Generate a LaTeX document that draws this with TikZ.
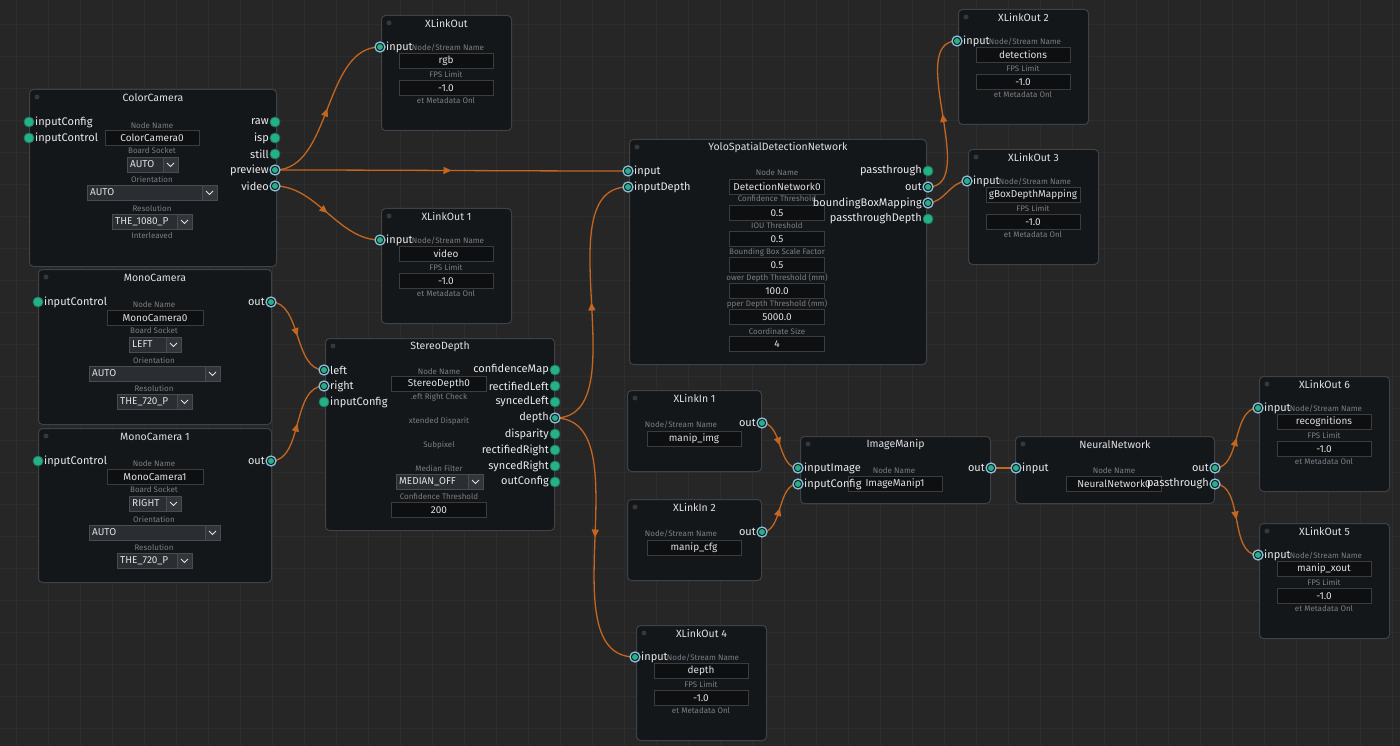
\documentclass[tikz,border=0pt]{standalone}
\usepackage{fontspec}
\setmainfont{Fira Sans}
\usetikzlibrary{arrows.meta, positioning, calc, decorations.markings}
\definecolor{canvasbg}{RGB}{38,38,38}
\definecolor{gridline}{RGB}{45,45,45}
\definecolor{nodebg}{RGB}{20,23,26}
\definecolor{nodeedge}{RGB}{62,66,70}
\definecolor{titletxt}{RGB}{222,224,226}
\definecolor{pintxt}{RGB}{234,234,234}
\definecolor{smalltxt}{RGB}{122,126,130}
\definecolor{fieldbg}{RGB}{13,15,17}
\definecolor{fieldedge}{RGB}{58,61,64}
\definecolor{dropbg}{RGB}{42,45,49}
\definecolor{dropbtn}{RGB}{50,53,57}
\definecolor{dropedge}{RGB}{72,76,80}
\definecolor{pingreen}{RGB}{38,176,134}
\definecolor{pinedge}{RGB}{28,120,95}
\definecolor{pinring}{RGB}{140,190,222}
\definecolor{linkorange}{RGB}{196,102,32}
\definecolor{dotgray}{RGB}{52,56,60}

\pgfdeclarelayer{grid}
\pgfdeclarelayer{links}
\pgfsetlayers{grid,links,main}

\tikzset{
  box/.style={draw=nodeedge, fill=nodebg, line width=1pt, rounded corners=4pt, anchor=north west, inner sep=0pt},
  titletext/.style={text=titletxt, font=\fontsize{10.5}{12}\selectfont},
  pintext/.style={text=pintxt, font=\fontsize{11}{13}\selectfont, inner sep=0pt},
  smalltext/.style={text=smalltxt, font=\fontsize{8}{9.5}\selectfont, inner sep=0pt},
  fieldbox/.style={draw=fieldedge, fill=fieldbg, line width=0.8pt, minimum height=15pt, inner sep=0pt, anchor=north, text=titletxt, font=\fontsize{10}{12}\selectfont},
  droptext/.style={text=titletxt, font=\fontsize{10}{12}\selectfont, inner sep=0pt, anchor=west},
  pinoff/.style={circle, fill=pingreen, draw=pinedge, line width=0.8pt, minimum size=10pt, inner sep=0pt},
  pinon/.style={circle, fill=nodebg, draw=pinring, line width=1.3pt, minimum size=10pt, inner sep=0pt,
    path picture={\fill[pingreen] (path picture bounding box.center) circle (3pt);}},
  link/.style={draw=linkorange, line width=1.3pt, out=0, in=180, looseness=0.9},
  midarrow/.style={postaction={decorate}, decoration={markings,
    mark=at position 0.5 with {\arrow[linkorange]{Triangle[length=8pt,width=7pt]}}}},
}

% node frame: name, x, y, width, height, title
\newcommand{\nodebox}[6]{%
  \node[box, minimum width=#4pt, minimum height=#5pt] (#1) at (#2,#3) {};
  \fill[dotgray] (#2+8,#3+8) circle (2.5pt);
  \node[titletext] at ($(#1.north)+(0,8.5)$) {#6};
}
% pins: style, name, x, y, label
\newcommand{\inpin}[5]{%
  \node[#1] (#2) at (#3,#4) {};
  \node[pintext, anchor=west] at ($(#2)+(6,0)$) {#5};
}
\newcommand{\outpin}[5]{%
  \node[#1] (#2) at (#3,#4) {};
  \node[pintext, anchor=east] at ($(#2)+(-6,0)$) {#5};
}
% combo box: x1, top, x2, text
\newcommand{\dropdown}[4]{%
  \filldraw[fill=dropbg, draw=dropedge, line width=0.8pt] (#1,#2) rectangle (#3,#2+15);
  \filldraw[fill=dropbtn, draw=dropedge, line width=0.8pt] (#3-15,#2) rectangle (#3,#2+15);
  \draw[titletxt, line width=0.9pt] (#3-11,#2+6) -- (#3-7.5,#2+9.5) -- (#3-4,#2+6);
  \node[droptext] at (#1+3,#2+7.5) {#4};
}
% XLinkOut block: name, x, y, title, stream
\newcommand{\xlinkout}[5]{%
  \nodebox{#1}{#2}{#3}{130}{115}{#4}
  \node[smalltext] at (#2+67,#3+33) {Node/Stream Name};
  \node[fieldbox, minimum width=94pt] at (#2+65,#3+38) {#5};
  \node[smalltext] at (#2+65,#3+59) {FPS Limit};
  \node[fieldbox, minimum width=94pt] at (#2+65,#3+65) {-1.0};
  \node[smalltext] at (#2+65,#3+86) {et Metadata Onl};
  \inpin{pinon}{#1-in}{#2-1}{#3+32}{input}
}
% XLinkIn block: name, y, title, stream
\newcommand{\xlinkin}[4]{%
  \nodebox{#1}{627}{#2}{134}{81}{#3}
  \node[smalltext] at (681,#2+35) {Node/Stream Name};
  \node[fieldbox, minimum width=94pt] at (694,#2+41) {#4};
  \outpin{pinon}{#1-out}{762}{#2+33}{out}
}

\begin{document}
\begin{tikzpicture}[x=1pt, y=-1pt]
    \useasboundingbox (0,0) rectangle (1400,746);

    % Canvas
    \begin{pgfonlayer}{grid}
      \fill[canvasbg] (0,0) rectangle (1400,746);
      \foreach \x in {16,48,...,1400} \draw[gridline, line width=0.7pt] (\x,0) -- (\x,746);
      \foreach \y in {24,56,...,746} \draw[gridline, line width=0.7pt] (0,\y) -- (1400,\y);
    \end{pgfonlayer}

    % ColorCamera
    \nodebox{cc}{29}{89}{247}{177}{ColorCamera}
    \node[smalltext] at (152,126) {Node Name};
    \node[fieldbox, minimum width=94pt] at (152,130) {ColorCamera0};
    \node[smalltext] at (152,151) {Board Socket};
    \dropdown{127}{157}{178}{AUTO}
    \node[smalltext] at (152,179) {Orientation};
    \dropdown{87}{185}{217}{AUTO}
    \node[smalltext] at (152,208) {Resolution};
    \dropdown{112}{214}{192}{THE\_1080\_P}
    \node[smalltext] at (152,236) {Interleaved};
    \inpin{pinoff}{cc-cfg}{29}{122}{inputConfig}
    \inpin{pinoff}{cc-ctl}{29}{138}{inputControl}
    \outpin{pinoff}{cc-raw}{275}{122}{raw}
    \outpin{pinoff}{cc-isp}{275}{138}{isp}
    \outpin{pinoff}{cc-still}{275}{154}{still}
    \outpin{pinon}{cc-prev}{275}{170}{preview}
    \outpin{pinon}{cc-video}{275}{186}{video}

    % MonoCamera
    \nodebox{mc0}{38}{269}{233}{155}{MonoCamera}
    \node[smalltext] at (154,305) {Node Name};
    \node[fieldbox, minimum width=96pt] at (155,310) {MonoCamera0};
    \node[smalltext] at (154,331) {Board Socket};
    \dropdown{129}{337}{181}{LEFT}
    \node[smalltext] at (154,360) {Orientation};
    \dropdown{89}{366}{220}{AUTO}
    \node[smalltext] at (154,388) {Resolution};
    \dropdown{117}{394}{192}{THE\_720\_P}
    \inpin{pinoff}{mc0-ctl}{38}{302}{inputControl}
    \outpin{pinon}{mc0-out}{271}{302}{out}

    % MonoCamera 1
    \nodebox{mc1}{38}{428}{233}{154}{MonoCamera 1}
    \node[smalltext] at (154,464) {Node Name};
    \node[fieldbox, minimum width=96pt] at (155,469) {MonoCamera1};
    \node[smalltext] at (154,490) {Board Socket};
    \dropdown{129}{496}{181}{RIGHT}
    \node[smalltext] at (154,519) {Orientation};
    \dropdown{89}{525}{220}{AUTO}
    \node[smalltext] at (154,547) {Resolution};
    \dropdown{117}{553}{192}{THE\_720\_P}
    \inpin{pinoff}{mc1-ctl}{38}{461}{inputControl}
    \outpin{pinon}{mc1-out}{271}{461}{out}

    % StereoDepth
    \nodebox{sd}{325}{338}{229}{192}{StereoDepth}
    \node[smalltext] at (439,372) {Node Name};
    \node[fieldbox, minimum width=95pt] at (439,376) {StereoDepth0};
    \node[smalltext] at (439,397) {.eft Right Check};
    \node[smalltext] at (439,421) {xtended Disparit};
    \node[smalltext] at (439,445) {Subpixel};
    \node[smalltext] at (439,468) {Median Filter};
    \dropdown{396}{474}{483}{MEDIAN\_OFF}
    \node[smalltext] at (439,497) {Confidence Threshold};
    \node[fieldbox, minimum width=95pt] at (439,502) {200};
    \inpin{pinon}{sd-left}{324}{370}{left}
    \inpin{pinon}{sd-right}{324}{386}{right}
    \inpin{pinoff}{sd-cfg}{324}{402}{inputConfig}
    \outpin{pinoff}{sd-conf}{555}{370}{confidenceMap}
    \outpin{pinoff}{sd-rleft}{555}{386}{rectifiedLeft}
    \outpin{pinoff}{sd-sleft}{555}{402}{syncedLeft}
    \outpin{pinon}{sd-depth}{555}{418}{depth}
    \outpin{pinoff}{sd-disp}{555}{434}{disparity}
    \outpin{pinoff}{sd-rright}{555}{450}{rectifiedRight}
    \outpin{pinoff}{sd-sright}{555}{466}{syncedRight}
    \outpin{pinoff}{sd-ocfg}{555}{482}{outConfig}

    % YoloSpatialDetectionNetwork
    \nodebox{yolo}{629}{139}{297}{225}{YoloSpatialDetectionNetwork}
    \node[smalltext] at (777,173) {Node Name};
    \node[fieldbox, minimum width=95pt] at (777,179) {DetectionNetwork0};
    \node[smalltext] at (777,199) {Confidence Threshold};
    \node[fieldbox, minimum width=95pt] at (777,205) {0.5};
    \node[smalltext] at (777,226) {IOU Threshold};
    \node[fieldbox, minimum width=95pt] at (777,231) {0.5};
    \node[smalltext] at (777,252) {Bounding Box Scale Factor};
    \node[fieldbox, minimum width=95pt] at (777,257) {0.5};
    \node[smalltext] at (777,278) {ower Depth Threshold (mm)};
    \node[fieldbox, minimum width=95pt] at (777,283) {100.0};
    \node[smalltext] at (777,304) {pper Depth Threshold (mm)};
    \node[fieldbox, minimum width=95pt] at (777,309) {5000.0};
    \node[smalltext] at (777,331) {Coordinate Size};
    \node[fieldbox, minimum width=95pt] at (777,336) {4};
    \inpin{pinon}{yolo-in}{628}{171}{input}
    \inpin{pinon}{yolo-depth}{628}{187}{inputDepth}
    \outpin{pinoff}{yolo-pass}{928}{171}{passthrough}
    \outpin{pinon}{yolo-out}{928}{187}{out}
    \outpin{pinon}{yolo-bbm}{928}{203}{boundingBoxMapping}
    \outpin{pinoff}{yolo-pdepth}{928}{219}{passthroughDepth}

    % XLinkIn
    \xlinkin{xi1}{390}{XLinkIn 1}{manip\_img}
    \xlinkin{xi2}{499}{XLinkIn 2}{manip\_cfg}

    % ImageManip
    \nodebox{im}{800}{436}{190}{67}{ImageManip}
    \node[smalltext] at (894,471) {Node Name};
    \node[fieldbox, minimum width=94pt] at (895,476) {ImageManip1};
    \inpin{pinon}{im-img}{798}{468}{inputImage}
    \inpin{pinon}{im-cfg}{798}{484}{inputConfig}
    \outpin{pinon}{im-out}{991}{468}{out}

    % NeuralNetwork
    \nodebox{nn}{1015}{436}{199}{67}{NeuralNetwork}
    \node[smalltext] at (1114,471) {Node Name};
    \node[fieldbox, minimum width=95pt] at (1114,476) {NeuralNetwork0};
    \inpin{pinon}{nn-in}{1016}{468}{input}
    \outpin{pinon}{nn-out}{1215}{468}{out}
    \outpin{pinon}{nn-pass}{1215}{484}{passthrough}

    % XLinkOut
    \xlinkout{xo0}{381}{15}{XLinkOut}{rgb}
    \xlinkout{xo1}{381}{208}{XLinkOut 1}{video}
    \xlinkout{xo2}{958}{9}{XLinkOut 2}{detections}
    \xlinkout{xo3}{968}{149}{XLinkOut 3}{gBoxDepthMapping}
    \xlinkout{xo4}{636}{625}{XLinkOut 4}{depth}
    \xlinkout{xo5}{1259}{523}{XLinkOut 5}{manip\_xout}
    \xlinkout{xo6}{1259}{376}{XLinkOut 6}{recognitions}

    % Links
    \begin{pgfonlayer}{links}
      \draw[link, midarrow] (cc-prev.center) to (xo0-in.center);
      \draw[link, midarrow] (cc-prev.center) to (yolo-in.center);
      \draw[link, midarrow] (cc-video.center) to (xo1-in.center);
      \draw[link, midarrow] (mc0-out.center) to (sd-left.center);
      \draw[link, midarrow] (mc1-out.center) to (sd-right.center);
      \draw[link, midarrow] (sd-depth.center) to (yolo-depth.center);
      \draw[link, midarrow] (sd-depth.center) to (xo4-in.center);
      \draw[link, midarrow] (yolo-out.center) to (xo2-in.center);
      \draw[link] (yolo-bbm.center) to (xo3-in.center);
      \draw[link, midarrow] (xi1-out.center) to (im-img.center);
      \draw[link, midarrow] (xi2-out.center) to (im-cfg.center);
      \draw[link] (im-out.center) to (nn-in.center);
      \draw[link, midarrow] (nn-out.center) to (xo6-in.center);
      \draw[link, midarrow] (nn-pass.center) to (xo5-in.center);
    \end{pgfonlayer}

\end{tikzpicture}
\end{document}
